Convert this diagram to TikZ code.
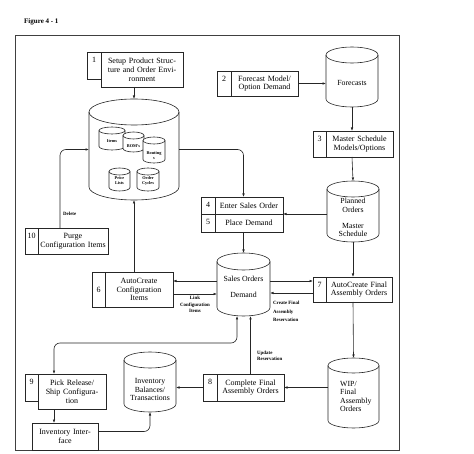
\documentclass[tikz,border=0pt]{standalone}
\usepackage{fontspec}
\setmainfont{Liberation Serif}
\usetikzlibrary{arrows.meta}
\tikzset{
 base/.style={line width=0.6pt, draw=black!85},
 numcell/.style={base, rectangle, inner sep=0pt, outer sep=0pt, anchor=north west},
 procbox/.style={base, rectangle, inner sep=0pt, outer sep=0pt, anchor=north west, align=center, font=\fontsize{8}{8.8}\selectfont},
 numtxt/.style={inner sep=0pt, font=\fontsize{8}{8.8}\selectfont},
 dbbox/.style={rectangle, inner sep=0pt, outer sep=0pt, anchor=north west},
 dbline/.style={base, fill=white},
 dbtxt/.style={inner sep=0pt, align=center, font=\fontsize{7.8}{8.3}\selectfont},
 tinytxt/.style={inner sep=0pt, align=center, font=\fontsize{4.3}{5}\selectfont\bfseries},
 lbl/.style={inner sep=0pt, font=\fontsize{4.9}{6.5}\selectfont\bfseries},
 conn/.style={line width=0.6pt, draw=black!85},
 arr/.style={conn, -{Latex[length=3.5pt,width=2.6pt]}},
 arrr/.style={conn, {Latex[length=3.5pt,width=2.6pt]}-{Latex[length=3.5pt,width=2.6pt]}},
 framebox/.style={line width=0.7pt, draw=black!75},
}
% cylinder: name, left, top, width, height, ry
\newcommand\dbnode[6]{%
 \node[dbbox, minimum width=#4pt, minimum height=#5pt] (#1) at (#2,#3) {};
 \draw[dbline] ([yshift=-#6pt]#1.north west) -- ([yshift=#6pt]#1.south west)
   arc[start angle=180, end angle=360, x radius=#4pt/2, y radius=#6pt]
   -- ([yshift=-#6pt]#1.north east)
   arc[start angle=0, end angle=180, x radius=#4pt/2, y radius=#6pt] -- cycle;
 \draw[base] ([yshift=-#6pt]#1.north west)
   arc[start angle=180, end angle=360, x radius=#4pt/2, y radius=#6pt];
}
% process box: name, x, y, num w, main w, num h, main h, number, text
\newcommand\pbox[9]{%
 \node[numcell, minimum width=#4pt, minimum height=#6pt] (#1n) at (#2,#3) {};
 \node[procbox, minimum width=#5pt, minimum height=#7pt, text width=\dimexpr#5pt-3pt\relax] (#1) at (#1n.north east) {#9};
 \node[numtxt] (#1k) at ([yshift=-8pt]#1n.north) {#8};
}
\begin{document}
\begin{tikzpicture}[x=1pt,y=-1pt]
\useasboundingbox (0,0) rectangle (474,454);
\node[anchor=west, inner sep=0pt, font=\fontsize{7}{8}\selectfont\bfseries] (title) at (24,22) {Figure 4 - 1};
\draw[framebox] (15,35) rectangle (399,450);

% databases
\dbnode{maindb}{89}{99}{90}{101}{13}
\dbnode{items}{99}{127}{26}{23}{3.5}
\dbnode{boms}{123}{132}{21}{20}{3.5}
\dbnode{rout}{143}{137}{22}{26}{3.5}
\dbnode{price}{109}{168}{21}{23}{3.5}
\dbnode{cycles}{137}{168}{22}{23}{3.5}
\node[tinytxt] (items-t) at ([yshift=-3pt]items.center) {Items};
\node[tinytxt] (boms-t) at ([yshift=-4pt]boms.center) {BOM's};
\node[tinytxt] (rout-t) at ([yshift=-6pt]rout.center) {Routing\\s};
\node[tinytxt] (price-t) at ([yshift=-1pt]price.center) {Price\\Lists};
\node[tinytxt] (cycles-t) at ([yshift=-1pt]cycles.center) {Order\\Cycles};

\dbnode{fc}{326}{47}{52}{60}{8}
\node[dbtxt] (fc-t) at ([yshift=-6pt]fc.center) {Forecasts};
\dbnode{po}{327}{181}{52}{61}{8}
\node[dbtxt] (po-t) at ([yshift=-6pt]po.center) {Planned\\Orders\\[7.5pt]Master\\Schedule};
\dbnode{so}{217}{253}{53}{63}{8.5}
\node[dbtxt] (so-t) at ([yshift=-2pt]so.center) {Sales Orders\\[7.5pt]Demand};
\dbnode{wip}{328}{358}{51}{70}{7.5}
\node[dbtxt, align=left, anchor=west] (wip-t) at (340,396.5) {WIP/\\Final\\Assembly\\Orders};
\dbnode{ib}{124}{352}{52}{60}{8}
\node[dbtxt] (ib-t) at ([yshift=-7.5pt]ib.center) {Inventory\\Balances/\\Transactions};

% process boxes
\pbox{p1}{87}{52}{14}{82}{27}{35}{1}{Setup Product Struc-\\ture and Order Envi-\\ronment}
\pbox{p2}{217}{71}{14}{67}{25}{25}{2}{Forecast Model/\\Option Demand}
\pbox{p3}{313}{131}{13}{67}{26}{26}{3}{Master Schedule\\Models/Options}
\pbox{p4}{201}{197}{14}{68}{17}{17}{4}{Enter Sales Order}
\pbox{p5}{201}{214}{14}{68}{18}{18}{5}{Place Demand}
\pbox{p7}{313}{277}{13}{66}{25}{25}{7}{AutoCreate Final\\Assembly Orders}
\pbox{p8}{203}{374}{14}{67}{27}{27}{8}{Complete Final\\Assembly Orders}
\pbox{p9}{25}{374}{13}{68}{27}{35}{9}{Pick Release/\\Ship Configura-\\tion}
\pbox{p10}{25}{228}{13}{70}{26}{26}{10}{Purge\\Configuration Items}
\node[numcell, minimum width=13pt, minimum height=35pt] (p6n) at (92,272) {};
\node[procbox, minimum width=68pt, minimum height=35pt, text width=65pt] (p6) at (p6n.north east) {AutoCreate\\Configuration\\Items};
\node[numtxt] (p6k) at (p6n.center) {6};
\node[procbox, minimum width=66pt, minimum height=27pt, text width=63pt] (invif) at (32,423) {Inventory Inter-\\face};

% connectors
\draw[arr] (maindb.north |- p1.south) -- (maindb.north);
\draw[arr, rounded corners=6pt] (maindb.east) -| (so.north |- p4.north);
\draw[arr] (so.north |- p5.south) -- (so.north);
\draw[arr] (p2.east) -- (p2.east -| fc.west);
\draw[arr] (fc.south) -- (fc.south |- p3.north);
\draw[arr] (fc.south |- p3.south) -- (po.north);
\draw[arr] (po.west |- p5.north) -- (p5.north east);
\draw[arr] (po.south) -- (po.south |- p7.north);
\draw[arr] (po.south |- p7.south) -- (wip.north);
\draw[arr] ([yshift=8.5pt]p7n.west -| so.east) -- ([yshift=8.5pt]p7n.west);
\draw[arr] ([yshift=-3.5pt]p7n.west) -- ([yshift=-3.5pt]p7n.west -| so.east);
\draw[arr] ([yshift=8.5pt]p6.east -| so.west) -- ([yshift=8.5pt]p6.east);
\draw[arr] ([yshift=-4.5pt]p6.east) -- ([yshift=-4.5pt]p6.east -| so.west);
\draw[arr] (maindb.south |- p6.north) -- (maindb.south);
\draw[arr, rounded corners=6pt] ([xshift=-13pt]p10.north) |- (maindb.west);
\draw[arr] (p8.north) -- (p8.north |- so.south);
\coordinate (j9) at (54,343);
\draw[arrr, rounded corners=6pt] ([xshift=-6.5pt]so.south) |- (j9) -- (j9 |- p9.north);
\draw[arr] (j9 |- p9.south) -- (j9 |- invif.north);
\draw[arr, rounded corners=6pt] ([yshift=5pt]invif.east) -| (ib.south);
\draw[arr] (p8n.west) -- (p8n.west -| ib.east);
\draw[arr] (wip.west |- p8.east) -- (p8.east);

% labels
\node[lbl, anchor=west] (l-del) at (63,214) {Delete};
\node[lbl, align=center] (l-link) at (195,304.5) {Link\\Configuration\\Items};
\node[lbl, align=left, anchor=north west, font=\fontsize{4.9}{8.5}\selectfont\bfseries] (l-cfa) at (273,301) {Create Final\\Assembly\\Reservation};
\node[lbl, align=left, anchor=west] (l-upd) at (257,356) {Update\\Reservation};
\end{tikzpicture}
\end{document}
